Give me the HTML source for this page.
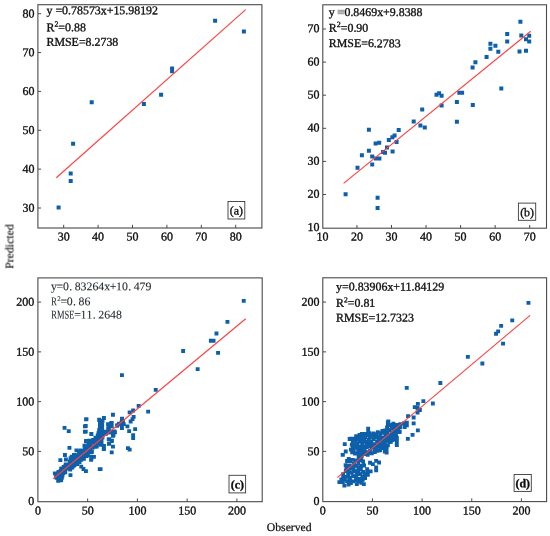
<!DOCTYPE html>
<html><head><meta charset="utf-8"><title>Observed vs Predicted</title>
<style>
html,body{margin:0;padding:0;background:#fff;}
svg{display:block;font-family:"Liberation Serif",serif;}
text{fill:#0a0a0a;stroke:#0a0a0a;stroke-width:0.3px;text-rendering:geometricPrecision;}
text.cj{font-family:"Liberation Serif","Noto Serif CJK SC",serif;fill:#1f252b;stroke:#1f252b;stroke-width:0.1px;}
</style></head><body>
<svg width="550" height="536" viewBox="0 0 550 536">
<defs><filter id="soft" x="0" y="0" width="550" height="536" filterUnits="userSpaceOnUse"><feGaussianBlur stdDeviation="0.35"/></filter></defs>
<rect width="550" height="536" fill="#fff"/>
<g filter="url(#soft)">
<g id="panel-a">
<path fill="#0e5fa9" d="M56.6 205.5h4.0v4.0h-4.0zM68.7 178.9h4.0v4.0h-4.0zM68.7 171.5h4.0v4.0h-4.0zM71.1 141.7h4.0v4.0h-4.0zM89.7 100.3h4.0v4.0h-4.0zM141.9 101.9h4.0v4.0h-4.0zM159.1 92.7h4.0v4.0h-4.0zM170.1 69.2h4.0v4.0h-4.0zM170.1 66.5h4.0v4.0h-4.0zM213.1 18.8h4.0v4.0h-4.0zM241.9 29.6h4.0v4.0h-4.0z"/>
<line x1="56.3" y1="177.8" x2="245.7" y2="9.6" stroke="#ff4040" stroke-width="1.15"/>
<rect x="37.9" y="4.7" width="224.00" height="223.30" fill="none" stroke="#4a4a4a" stroke-width="1.1"/>
<line x1="63.70" y1="228.0" x2="63.70" y2="224.80" stroke="#4a4a4a"/>
<text x="63.70" y="240.4" font-size="12.0" text-anchor="middle" transform="rotate(0.04 63.70 240.4)">30</text>
<line x1="98.10" y1="228.0" x2="98.10" y2="224.80" stroke="#4a4a4a"/>
<text x="98.10" y="240.4" font-size="12.0" text-anchor="middle" transform="rotate(0.04 98.10 240.4)">40</text>
<line x1="132.50" y1="228.0" x2="132.50" y2="224.80" stroke="#4a4a4a"/>
<text x="132.50" y="240.4" font-size="12.0" text-anchor="middle" transform="rotate(0.04 132.50 240.4)">50</text>
<line x1="166.90" y1="228.0" x2="166.90" y2="224.80" stroke="#4a4a4a"/>
<text x="166.90" y="240.4" font-size="12.0" text-anchor="middle" transform="rotate(0.04 166.90 240.4)">60</text>
<line x1="201.30" y1="228.0" x2="201.30" y2="224.80" stroke="#4a4a4a"/>
<text x="201.30" y="240.4" font-size="12.0" text-anchor="middle" transform="rotate(0.04 201.30 240.4)">70</text>
<line x1="235.70" y1="228.0" x2="235.70" y2="224.80" stroke="#4a4a4a"/>
<text x="235.70" y="240.4" font-size="12.0" text-anchor="middle" transform="rotate(0.04 235.70 240.4)">80</text>
<line x1="37.9" y1="208.00" x2="41.10" y2="208.00" stroke="#4a4a4a"/>
<text x="34.4" y="211.70" font-size="12.0" text-anchor="end" transform="rotate(0.04 34.4 211.70)">30</text>
<line x1="37.9" y1="169.14" x2="41.10" y2="169.14" stroke="#4a4a4a"/>
<text x="34.4" y="172.84" font-size="12.0" text-anchor="end" transform="rotate(0.04 34.4 172.84)">40</text>
<line x1="37.9" y1="130.28" x2="41.10" y2="130.28" stroke="#4a4a4a"/>
<text x="34.4" y="133.98" font-size="12.0" text-anchor="end" transform="rotate(0.04 34.4 133.98)">50</text>
<line x1="37.9" y1="91.42" x2="41.10" y2="91.42" stroke="#4a4a4a"/>
<text x="34.4" y="95.12" font-size="12.0" text-anchor="end" transform="rotate(0.04 34.4 95.12)">60</text>
<line x1="37.9" y1="52.56" x2="41.10" y2="52.56" stroke="#4a4a4a"/>
<text x="34.4" y="56.26" font-size="12.0" text-anchor="end" transform="rotate(0.04 34.4 56.26)">70</text>
<line x1="37.9" y1="13.70" x2="41.10" y2="13.70" stroke="#4a4a4a"/>
<text x="34.4" y="17.40" font-size="12.0" text-anchor="end" transform="rotate(0.04 34.4 17.40)">80</text>
<text x="46.5" y="14.2" font-size="11.9" transform="rotate(0.04 46.5 14.2)" >y =0.78573x+15.98192</text>
<text x="46.5" y="31.2" font-size="11.9" transform="rotate(0.04 46.5 31.2)" >R<tspan dy="-4.8" font-size="7.8">2</tspan><tspan dy="4.8">=0.88</tspan></text>
<text x="46.5" y="45.8" font-size="11.9" transform="rotate(0.04 46.5 45.8)" >RMSE=8.2738</text>
<rect x="228" y="201.5" width="16.80" height="17.50" fill="#fff" stroke="#3a3a3a" stroke-width="0.9"/>
<text x="236.4" y="214.6" font-size="11.9" transform="rotate(0.04 236.4 214.6)" text-anchor="middle">(a)</text>
</g>
<g id="panel-b">
<path fill="#0e5fa9" d="M343.6 192.2h4.0v4.0h-4.0zM375.6 195.8h4.0v4.0h-4.0zM375.6 206.1h4.0v4.0h-4.0zM355.5 165.8h4.0v4.0h-4.0zM359.9 153.2h4.0v4.0h-4.0zM366.9 127.7h4.0v4.0h-4.0zM366.9 148.7h4.0v4.0h-4.0zM370.2 154.6h4.0v4.0h-4.0zM370.2 162.4h4.0v4.0h-4.0zM373.6 141.6h4.0v4.0h-4.0zM377.2 140.7h4.0v4.0h-4.0zM374.0 156.6h4.0v4.0h-4.0zM377.4 156.4h4.0v4.0h-4.0zM381.0 149.9h4.0v4.0h-4.0zM383.0 150.8h4.0v4.0h-4.0zM385.0 145.6h4.0v4.0h-4.0zM386.8 138.0h4.0v4.0h-4.0zM390.6 149.6h4.0v4.0h-4.0zM390.4 135.3h4.0v4.0h-4.0zM392.6 133.5h4.0v4.0h-4.0zM394.6 140.0h4.0v4.0h-4.0zM396.7 128.1h4.0v4.0h-4.0zM411.7 119.5h4.0v4.0h-4.0zM418.4 123.4h4.0v4.0h-4.0zM422.8 125.5h4.0v4.0h-4.0zM420.2 107.5h4.0v4.0h-4.0zM518.4 19.7h4.0v4.0h-4.0zM519.3 33.6h4.0v4.0h-4.0zM527.2 33.8h4.0v4.0h-4.0zM524.0 37.2h4.0v4.0h-4.0zM527.2 39.6h4.0v4.0h-4.0zM517.5 49.5h4.0v4.0h-4.0zM524.0 48.8h4.0v4.0h-4.0zM505.2 32.0h4.0v4.0h-4.0zM505.2 39.6h4.0v4.0h-4.0zM488.4 41.7h4.0v4.0h-4.0zM488.4 46.8h4.0v4.0h-4.0zM493.4 43.7h4.0v4.0h-4.0zM496.3 49.7h4.0v4.0h-4.0zM484.6 55.1h4.0v4.0h-4.0zM473.4 60.2h4.0v4.0h-4.0zM470.6 65.5h4.0v4.0h-4.0zM499.3 86.4h4.0v4.0h-4.0zM434.5 92.7h4.0v4.0h-4.0zM437.1 91.2h4.0v4.0h-4.0zM439.6 93.8h4.0v4.0h-4.0zM439.6 103.5h4.0v4.0h-4.0zM457.3 90.8h4.0v4.0h-4.0zM460.1 90.8h4.0v4.0h-4.0zM454.9 99.9h4.0v4.0h-4.0zM470.8 102.9h4.0v4.0h-4.0zM454.9 119.8h4.0v4.0h-4.0z"/>
<line x1="343.6" y1="183.4" x2="530.7" y2="31.3" stroke="#ff4040" stroke-width="1.15"/>
<rect x="322.8" y="4.8" width="223.70" height="223.40" fill="none" stroke="#4a4a4a" stroke-width="1.1"/>
<text x="322.40" y="240.4" font-size="12.0" text-anchor="middle" transform="rotate(0.04 322.40 240.4)">10</text>
<line x1="356.95" y1="228.2" x2="356.95" y2="225.00" stroke="#4a4a4a"/>
<text x="356.95" y="240.4" font-size="12.0" text-anchor="middle" transform="rotate(0.04 356.95 240.4)">20</text>
<line x1="391.50" y1="228.2" x2="391.50" y2="225.00" stroke="#4a4a4a"/>
<text x="391.50" y="240.4" font-size="12.0" text-anchor="middle" transform="rotate(0.04 391.50 240.4)">30</text>
<line x1="426.05" y1="228.2" x2="426.05" y2="225.00" stroke="#4a4a4a"/>
<text x="426.05" y="240.4" font-size="12.0" text-anchor="middle" transform="rotate(0.04 426.05 240.4)">40</text>
<line x1="460.60" y1="228.2" x2="460.60" y2="225.00" stroke="#4a4a4a"/>
<text x="460.60" y="240.4" font-size="12.0" text-anchor="middle" transform="rotate(0.04 460.60 240.4)">50</text>
<line x1="495.15" y1="228.2" x2="495.15" y2="225.00" stroke="#4a4a4a"/>
<text x="495.15" y="240.4" font-size="12.0" text-anchor="middle" transform="rotate(0.04 495.15 240.4)">60</text>
<line x1="529.70" y1="228.2" x2="529.70" y2="225.00" stroke="#4a4a4a"/>
<text x="529.70" y="240.4" font-size="12.0" text-anchor="middle" transform="rotate(0.04 529.70 240.4)">70</text>
<text x="319.4" y="230.90" font-size="12.0" text-anchor="end" transform="rotate(0.04 319.4 230.90)">10</text>
<line x1="322.8" y1="194.50" x2="326.00" y2="194.50" stroke="#4a4a4a"/>
<text x="319.4" y="197.80" font-size="12.0" text-anchor="end" transform="rotate(0.04 319.4 197.80)">20</text>
<line x1="322.8" y1="161.40" x2="326.00" y2="161.40" stroke="#4a4a4a"/>
<text x="319.4" y="164.70" font-size="12.0" text-anchor="end" transform="rotate(0.04 319.4 164.70)">30</text>
<line x1="322.8" y1="128.30" x2="326.00" y2="128.30" stroke="#4a4a4a"/>
<text x="319.4" y="131.60" font-size="12.0" text-anchor="end" transform="rotate(0.04 319.4 131.60)">40</text>
<line x1="322.8" y1="95.20" x2="326.00" y2="95.20" stroke="#4a4a4a"/>
<text x="319.4" y="98.50" font-size="12.0" text-anchor="end" transform="rotate(0.04 319.4 98.50)">50</text>
<line x1="322.8" y1="62.10" x2="326.00" y2="62.10" stroke="#4a4a4a"/>
<text x="319.4" y="65.40" font-size="12.0" text-anchor="end" transform="rotate(0.04 319.4 65.40)">60</text>
<line x1="322.8" y1="29.00" x2="326.00" y2="29.00" stroke="#4a4a4a"/>
<text x="319.4" y="32.30" font-size="12.0" text-anchor="end" transform="rotate(0.04 319.4 32.30)">70</text>
<text x="328.8" y="15.9" font-size="11.9" transform="rotate(0.04 328.8 15.9)" >y <tspan style="fill:#a6a6a6;stroke:#a6a6a6;stroke-width:1.5px">=</tspan>0.8469x+9.8388</text>
<text x="328.8" y="31.8" font-size="11.9" transform="rotate(0.04 328.8 31.8)" >R<tspan dy="-4.7" font-size="8.0">2</tspan><tspan dy="4.7">=0.90</tspan></text>
<text x="328.8" y="47.1" font-size="11.9" transform="rotate(0.04 328.8 47.1)" >RMSE=6.2783</text>
<rect x="518.4" y="203.1" width="17.30" height="17.20" fill="#fff" stroke="#3a3a3a" stroke-width="0.9"/>
<text x="527.1" y="216.2" font-size="11.9" transform="rotate(0.04 527.1 216.2)" text-anchor="middle">(b)</text>
</g>
<g id="panel-c">
<path fill="#0e5fa9" d="M241.8 298.9h3.9v3.9h-3.9zM225.5 319.9h3.9v3.9h-3.9zM214.5 331.6h3.9v3.9h-3.9zM208.9 338.8h3.9v3.9h-3.9zM211.6 338.8h3.9v3.9h-3.9zM216.1 350.9h3.9v3.9h-3.9zM181.2 349.1h3.9v3.9h-3.9zM195.7 367.2h3.9v3.9h-3.9zM153.8 387.9h3.9v3.9h-3.9zM120.0 373.2h3.9v3.9h-3.9zM136.7 403.9h3.9v3.9h-3.9zM146.2 409.7h3.9v3.9h-3.9zM131.2 408.6h3.9v3.9h-3.9zM127.7 410.4h3.9v3.9h-3.9zM111.0 412.9h3.9v3.9h-3.9zM131.7 414.9h3.9v3.9h-3.9zM130.6 417.2h3.9v3.9h-3.9zM128.7 419.6h3.9v3.9h-3.9zM120.1 416.8h3.9v3.9h-3.9zM121.0 419.9h3.9v3.9h-3.9zM120.0 422.8h3.9v3.9h-3.9zM120.0 426.1h3.9v3.9h-3.9zM125.5 424.4h3.9v3.9h-3.9zM127.2 429.2h3.9v3.9h-3.9zM133.2 427.2h3.9v3.9h-3.9zM131.2 433.2h3.9v3.9h-3.9zM131.2 436.1h3.9v3.9h-3.9zM126.0 446.2h3.9v3.9h-3.9zM127.7 447.7h3.9v3.9h-3.9zM102.0 416.1h3.9v3.9h-3.9zM97.5 418.2h3.9v3.9h-3.9zM99.0 421.1h3.9v3.9h-3.9zM99.5 424.4h3.9v3.9h-3.9zM97.8 427.8h3.9v3.9h-3.9zM100.6 418.9h3.9v3.9h-3.9zM106.5 422.4h3.9v3.9h-3.9zM109.8 421.1h3.9v3.9h-3.9zM106.5 426.7h3.9v3.9h-3.9zM109.8 424.4h3.9v3.9h-3.9zM112.6 429.4h3.9v3.9h-3.9zM111.0 433.9h3.9v3.9h-3.9zM107.0 430.6h3.9v3.9h-3.9zM107.0 437.4h3.9v3.9h-3.9zM109.8 439.1h3.9v3.9h-3.9zM107.0 441.9h3.9v3.9h-3.9zM111.0 444.7h3.9v3.9h-3.9zM102.0 443.9h3.9v3.9h-3.9zM102.0 447.2h3.9v3.9h-3.9zM109.8 450.4h3.9v3.9h-3.9zM96.5 431.2h3.9v3.9h-3.9zM94.1 435.7h3.9v3.9h-3.9zM94.8 443.4h3.9v3.9h-3.9zM115.5 423.2h3.9v3.9h-3.9zM117.1 421.7h3.9v3.9h-3.9zM98.6 467.2h3.9v3.9h-3.9zM111.5 433.1h3.9v3.9h-3.9zM112.6 429.8h3.9v3.9h-3.9zM89.8 454.9h3.9v3.9h-3.9zM92.0 454.9h3.9v3.9h-3.9zM89.1 457.8h3.9v3.9h-3.9zM89.1 450.4h3.9v3.9h-3.9zM62.6 425.9h3.9v3.9h-3.9zM66.8 429.2h3.9v3.9h-3.9zM84.5 417.2h3.9v3.9h-3.9zM83.0 424.4h3.9v3.9h-3.9zM83.0 429.8h3.9v3.9h-3.9zM89.5 432.2h3.9v3.9h-3.9zM84.5 438.9h3.9v3.9h-3.9zM67.5 445.9h3.9v3.9h-3.9zM74.5 448.4h3.9v3.9h-3.9zM106.2 422.2h3.9v3.9h-3.9zM106.2 426.7h3.9v3.9h-3.9zM94.0 435.7h3.9v3.9h-3.9zM90.6 438.9h3.9v3.9h-3.9zM92.8 442.4h3.9v3.9h-3.9zM106.8 437.2h3.9v3.9h-3.9zM82.8 445.7h3.9v3.9h-3.9zM87.2 449.1h3.9v3.9h-3.9zM77.1 451.2h3.9v3.9h-3.9zM63.0 453.1h3.9v3.9h-3.9zM58.4 458.2h3.9v3.9h-3.9zM64.0 457.6h3.9v3.9h-3.9zM52.9 471.4h3.9v3.9h-3.9zM68.5 473.2h3.9v3.9h-3.9zM84.0 469.2h3.9v3.9h-3.9zM81.5 467.1h3.9v3.9h-3.9zM79.3 464.7h3.9v3.9h-3.9zM56.6 476.2h3.9v3.9h-3.9zM59.9 475.9h3.9v3.9h-3.9zM56.2 478.9h3.9v3.9h-3.9zM59.2 478.4h3.9v3.9h-3.9zM58.0 477.4h3.9v3.9h-3.9zM58.4 469.6h3.9v3.9h-3.9zM97.8 467.2h3.9v3.9h-3.9zM84.0 439.2h3.9v3.9h-3.9zM89.5 456.7h3.9v3.9h-3.9zM91.8 454.9h3.9v3.9h-3.9zM97.2 417.8h3.9v3.9h-3.9zM99.8 419.2h3.9v3.9h-3.9zM102.0 415.9h3.9v3.9h-3.9zM98.0 421.4h3.9v3.9h-3.9zM100.2 422.9h3.9v3.9h-3.9zM98.0 425.2h3.9v3.9h-3.9zM100.2 426.8h3.9v3.9h-3.9zM97.2 428.2h3.9v3.9h-3.9zM99.8 429.7h3.9v3.9h-3.9zM102.5 429.7h3.9v3.9h-3.9zM97.2 431.2h3.9v3.9h-3.9zM100.2 432.7h3.9v3.9h-3.9zM95.8 433.4h3.9v3.9h-3.9zM98.0 434.9h3.9v3.9h-3.9zM93.5 435.7h3.9v3.9h-3.9zM95.8 437.2h3.9v3.9h-3.9zM100.5 435.7h3.9v3.9h-3.9zM91.2 437.9h3.9v3.9h-3.9zM93.5 439.4h3.9v3.9h-3.9zM89.8 440.2h3.9v3.9h-3.9zM106.1 422.2h3.9v3.9h-3.9zM109.1 421.2h3.9v3.9h-3.9zM106.5 424.9h3.9v3.9h-3.9zM109.1 424.1h3.9v3.9h-3.9zM107.0 427.4h3.9v3.9h-3.9zM105.5 429.7h3.9v3.9h-3.9zM104.0 431.9h3.9v3.9h-3.9zM110.6 429.7h3.9v3.9h-3.9zM113.0 430.4h3.9v3.9h-3.9zM111.0 433.4h3.9v3.9h-3.9zM120.0 417.1h3.9v3.9h-3.9zM119.6 420.4h3.9v3.9h-3.9zM121.8 422.2h3.9v3.9h-3.9zM120.0 425.2h3.9v3.9h-3.9zM117.3 422.2h3.9v3.9h-3.9zM115.1 423.8h3.9v3.9h-3.9zM107.3 437.2h3.9v3.9h-3.9zM110.0 438.7h3.9v3.9h-3.9zM107.3 441.7h3.9v3.9h-3.9zM111.0 444.7h3.9v3.9h-3.9zM101.8 443.9h3.9v3.9h-3.9zM101.8 446.9h3.9v3.9h-3.9zM89.3 431.9h3.9v3.9h-3.9zM111.0 412.7h3.9v3.9h-3.9zM84.1 417.4h3.9v3.9h-3.9zM83.8 424.1h3.9v3.9h-3.9zM83.8 429.7h3.9v3.9h-3.9zM94.2 443.2h3.9v3.9h-3.9zM86.8 445.4h3.9v3.9h-3.9zM84.5 439.4h3.9v3.9h-3.9zM87.5 438.7h3.9v3.9h-3.9zM66.6 466.1h3.9v3.9h-3.9zM56.2 474.7h3.9v3.9h-3.9zM76.5 455.1h3.9v3.9h-3.9zM75.1 457.7h3.9v3.9h-3.9zM55.1 472.9h3.9v3.9h-3.9zM56.9 472.2h3.9v3.9h-3.9zM71.2 460.9h3.9v3.9h-3.9zM62.2 466.7h3.9v3.9h-3.9zM81.0 455.9h3.9v3.9h-3.9zM70.0 460.1h3.9v3.9h-3.9zM98.8 442.9h3.9v3.9h-3.9zM65.1 466.7h3.9v3.9h-3.9zM59.0 471.6h3.9v3.9h-3.9zM90.5 445.9h3.9v3.9h-3.9zM60.4 466.4h3.9v3.9h-3.9zM68.8 460.2h3.9v3.9h-3.9zM77.0 456.2h3.9v3.9h-3.9zM61.5 468.6h3.9v3.9h-3.9zM83.5 447.6h3.9v3.9h-3.9zM79.0 454.9h3.9v3.9h-3.9zM72.5 457.4h3.9v3.9h-3.9zM84.5 454.2h3.9v3.9h-3.9zM63.1 464.4h3.9v3.9h-3.9zM93.5 439.9h3.9v3.9h-3.9zM86.0 445.9h3.9v3.9h-3.9zM57.9 475.7h3.9v3.9h-3.9zM71.0 460.4h3.9v3.9h-3.9zM74.2 455.9h3.9v3.9h-3.9zM55.1 472.1h3.9v3.9h-3.9zM78.2 449.8h3.9v3.9h-3.9zM93.5 439.8h3.9v3.9h-3.9zM79.3 457.8h3.9v3.9h-3.9zM78.6 448.4h3.9v3.9h-3.9zM97.1 440.2h3.9v3.9h-3.9zM73.5 457.7h3.9v3.9h-3.9zM84.6 448.1h3.9v3.9h-3.9zM82.0 456.9h3.9v3.9h-3.9zM64.8 465.2h3.9v3.9h-3.9zM69.5 461.4h3.9v3.9h-3.9zM73.0 458.2h3.9v3.9h-3.9zM59.9 470.1h3.9v3.9h-3.9zM88.0 446.9h3.9v3.9h-3.9zM58.4 470.9h3.9v3.9h-3.9zM93.3 444.9h3.9v3.9h-3.9zM56.5 470.2h3.9v3.9h-3.9zM94.0 442.4h3.9v3.9h-3.9zM90.6 445.7h3.9v3.9h-3.9zM70.8 458.9h3.9v3.9h-3.9zM68.2 467.6h3.9v3.9h-3.9zM59.2 466.8h3.9v3.9h-3.9zM60.2 469.4h3.9v3.9h-3.9zM74.0 459.9h3.9v3.9h-3.9zM79.0 453.6h3.9v3.9h-3.9zM71.0 460.7h3.9v3.9h-3.9zM68.6 456.2h3.9v3.9h-3.9zM84.0 446.4h3.9v3.9h-3.9zM75.5 453.2h3.9v3.9h-3.9zM55.6 471.4h3.9v3.9h-3.9zM94.8 441.8h3.9v3.9h-3.9zM89.5 438.9h3.9v3.9h-3.9zM69.8 460.4h3.9v3.9h-3.9zM81.3 452.7h3.9v3.9h-3.9zM55.9 473.9h3.9v3.9h-3.9zM59.8 470.2h3.9v3.9h-3.9zM67.3 463.4h3.9v3.9h-3.9zM59.2 470.1h3.9v3.9h-3.9zM57.3 471.4h3.9v3.9h-3.9zM93.5 442.2h3.9v3.9h-3.9zM80.3 453.9h3.9v3.9h-3.9zM67.6 464.7h3.9v3.9h-3.9zM68.5 466.2h3.9v3.9h-3.9zM99.6 440.7h3.9v3.9h-3.9zM73.1 457.2h3.9v3.9h-3.9zM57.3 471.8h3.9v3.9h-3.9zM67.5 462.9h3.9v3.9h-3.9zM59.6 473.6h3.9v3.9h-3.9zM54.6 475.9h3.9v3.9h-3.9zM59.1 469.4h3.9v3.9h-3.9zM76.8 459.2h3.9v3.9h-3.9zM99.0 437.8h3.9v3.9h-3.9zM92.8 441.4h3.9v3.9h-3.9zM68.5 460.4h3.9v3.9h-3.9zM59.9 469.9h3.9v3.9h-3.9zM88.5 442.1h3.9v3.9h-3.9zM66.8 464.6h3.9v3.9h-3.9zM99.2 442.4h3.9v3.9h-3.9zM92.3 444.6h3.9v3.9h-3.9zM86.5 442.2h3.9v3.9h-3.9zM62.3 465.4h3.9v3.9h-3.9zM54.8 473.6h3.9v3.9h-3.9zM54.8 473.6h3.9v3.9h-3.9zM84.1 451.7h3.9v3.9h-3.9zM97.8 431.4h3.9v3.9h-3.9zM99.5 439.1h3.9v3.9h-3.9zM97.6 436.8h3.9v3.9h-3.9zM62.5 468.7h3.9v3.9h-3.9zM61.1 469.4h3.9v3.9h-3.9zM94.8 444.7h3.9v3.9h-3.9zM91.8 438.8h3.9v3.9h-3.9zM89.6 445.4h3.9v3.9h-3.9zM56.8 470.1h3.9v3.9h-3.9zM88.8 439.9h3.9v3.9h-3.9zM87.1 445.1h3.9v3.9h-3.9zM89.0 445.6h3.9v3.9h-3.9zM67.0 465.8h3.9v3.9h-3.9zM69.8 454.8h3.9v3.9h-3.9zM70.1 465.2h3.9v3.9h-3.9zM60.0 468.4h3.9v3.9h-3.9zM58.3 473.4h3.9v3.9h-3.9zM90.0 449.9h3.9v3.9h-3.9zM59.0 472.9h3.9v3.9h-3.9zM82.5 443.7h3.9v3.9h-3.9zM67.8 461.7h3.9v3.9h-3.9zM54.3 473.9h3.9v3.9h-3.9zM98.5 435.2h3.9v3.9h-3.9zM96.5 436.2h3.9v3.9h-3.9zM71.6 463.4h3.9v3.9h-3.9zM61.8 465.1h3.9v3.9h-3.9zM63.5 466.2h3.9v3.9h-3.9zM79.0 455.9h3.9v3.9h-3.9zM63.8 465.2h3.9v3.9h-3.9zM95.3 440.9h3.9v3.9h-3.9zM68.0 459.6h3.9v3.9h-3.9zM95.0 441.4h3.9v3.9h-3.9zM71.0 463.2h3.9v3.9h-3.9zM76.3 454.2h3.9v3.9h-3.9zM76.0 459.4h3.9v3.9h-3.9zM60.5 469.2h3.9v3.9h-3.9zM54.1 474.7h3.9v3.9h-3.9zM73.5 456.4h3.9v3.9h-3.9zM85.8 445.4h3.9v3.9h-3.9zM75.6 455.6h3.9v3.9h-3.9zM77.5 455.2h3.9v3.9h-3.9zM77.6 453.4h3.9v3.9h-3.9zM63.3 466.1h3.9v3.9h-3.9zM75.1 462.1h3.9v3.9h-3.9zM77.8 455.2h3.9v3.9h-3.9zM72.0 453.1h3.9v3.9h-3.9zM80.2 449.1h3.9v3.9h-3.9zM84.2 449.2h3.9v3.9h-3.9zM72.5 455.9h3.9v3.9h-3.9zM97.0 438.1h3.9v3.9h-3.9zM84.5 454.2h3.9v3.9h-3.9zM63.8 462.4h3.9v3.9h-3.9zM77.6 460.2h3.9v3.9h-3.9zM58.8 469.2h3.9v3.9h-3.9zM58.1 470.4h3.9v3.9h-3.9zM63.0 467.4h3.9v3.9h-3.9zM56.3 471.1h3.9v3.9h-3.9zM94.6 436.1h3.9v3.9h-3.9zM70.8 464.4h3.9v3.9h-3.9zM84.0 453.1h3.9v3.9h-3.9zM72.2 463.2h3.9v3.9h-3.9zM63.2 470.4h3.9v3.9h-3.9zM75.6 460.9h3.9v3.9h-3.9zM60.6 471.9h3.9v3.9h-3.9zM60.5 473.6h3.9v3.9h-3.9zM77.5 457.1h3.9v3.9h-3.9zM85.5 453.4h3.9v3.9h-3.9zM76.3 459.9h3.9v3.9h-3.9zM62.5 469.4h3.9v3.9h-3.9zM72.8 460.9h3.9v3.9h-3.9zM63.3 469.4h3.9v3.9h-3.9zM58.8 473.9h3.9v3.9h-3.9zM70.3 465.6h3.9v3.9h-3.9zM72.5 463.1h3.9v3.9h-3.9zM72.0 463.6h3.9v3.9h-3.9zM70.8 463.4h3.9v3.9h-3.9zM86.0 453.1h3.9v3.9h-3.9zM81.5 455.9h3.9v3.9h-3.9zM66.8 466.4h3.9v3.9h-3.9zM66.1 466.6h3.9v3.9h-3.9zM79.5 456.6h3.9v3.9h-3.9zM81.8 454.7h3.9v3.9h-3.9zM84.8 453.6h3.9v3.9h-3.9zM58.0 473.8h3.9v3.9h-3.9zM83.5 453.4h3.9v3.9h-3.9zM85.5 451.6h3.9v3.9h-3.9zM60.0 473.4h3.9v3.9h-3.9zM79.8 455.9h3.9v3.9h-3.9zM60.4 472.2h3.9v3.9h-3.9zM85.0 453.1h3.9v3.9h-3.9zM61.3 471.2h3.9v3.9h-3.9zM60.8 470.9h3.9v3.9h-3.9z"/>
<line x1="53.2" y1="478.7" x2="245.7" y2="318.7" stroke="#ff4040" stroke-width="1.15"/>
<rect x="37.9" y="277.9" width="224.30" height="223.80" fill="none" stroke="#4a4a4a" stroke-width="1.1"/>
<text x="37.90" y="514.6" font-size="12.0" text-anchor="middle" transform="rotate(0.04 37.90 514.6)">0</text>
<line x1="87.65" y1="501.7" x2="87.65" y2="498.50" stroke="#4a4a4a"/>
<text x="87.65" y="514.6" font-size="12.0" text-anchor="middle" transform="rotate(0.04 87.65 514.6)">50</text>
<line x1="137.40" y1="501.7" x2="137.40" y2="498.50" stroke="#4a4a4a"/>
<text x="137.40" y="514.6" font-size="12.0" text-anchor="middle" transform="rotate(0.04 137.40 514.6)">100</text>
<line x1="187.15" y1="501.7" x2="187.15" y2="498.50" stroke="#4a4a4a"/>
<text x="187.15" y="514.6" font-size="12.0" text-anchor="middle" transform="rotate(0.04 187.15 514.6)">150</text>
<line x1="236.90" y1="501.7" x2="236.90" y2="498.50" stroke="#4a4a4a"/>
<text x="236.90" y="514.6" font-size="12.0" text-anchor="middle" transform="rotate(0.04 236.90 514.6)">200</text>
<text x="34.2" y="505.00" font-size="12.0" text-anchor="end" transform="rotate(0.04 34.2 505.00)">0</text>
<line x1="37.9" y1="451.42" x2="41.10" y2="451.42" stroke="#4a4a4a"/>
<text x="34.2" y="455.22" font-size="12.0" text-anchor="end" transform="rotate(0.04 34.2 455.22)">50</text>
<line x1="37.9" y1="401.64" x2="41.10" y2="401.64" stroke="#4a4a4a"/>
<text x="34.2" y="405.44" font-size="12.0" text-anchor="end" transform="rotate(0.04 34.2 405.44)">100</text>
<line x1="37.9" y1="351.86" x2="41.10" y2="351.86" stroke="#4a4a4a"/>
<text x="34.2" y="355.66" font-size="12.0" text-anchor="end" transform="rotate(0.04 34.2 355.66)">150</text>
<line x1="37.9" y1="302.08" x2="41.10" y2="302.08" stroke="#4a4a4a"/>
<text x="34.2" y="305.88" font-size="12.0" text-anchor="end" transform="rotate(0.04 34.2 305.88)">200</text>
<text class="cj" x="54.05 59.95 65.85 70.65 77.65 83.55 89.45 95.35 101.25 107.15 113.05 118.95 124.85 129.65 136.65 142.55 148.45" y="290.3" font-size="11.8" text-anchor="middle" transform="rotate(0.04 51.1 290.3)">y=0.83264x+10.479</text>
<text class="cj" x="51.3" y="305.2" font-size="11.8" textLength="5.6" lengthAdjust="spacingAndGlyphs" transform="rotate(0.04 51.3 305.2)">R</text>
<text class="cj" x="58.9" y="300.9" font-size="7" text-anchor="middle" transform="rotate(0.04 58 300)">2</text>
<text class="cj" x="63.85 69.75 74.55 81.55 87.45" y="305.2" font-size="11.8" text-anchor="middle" transform="rotate(0.04 60.9 305.2)">=0.86</text>
<text class="cj" x="51.3" y="318.6" font-size="11.8" textLength="23.0" lengthAdjust="spacingAndGlyphs" transform="rotate(0.04 51.3 318.6)">RMSE</text>
<text class="cj" x="77.65 83.55 89.45 94.25 101.25 107.15 113.05 118.95" y="318.6" font-size="11.8" text-anchor="middle" transform="rotate(0.04 74.7 318.6)">=11.2648</text>
<rect x="229" y="475.3" width="16.60" height="17.60" fill="#fff" stroke="#3a3a3a" stroke-width="0.9"/>
<text x="237.3" y="488.4" font-size="11.9" transform="rotate(0.04 237.3 488.4)" text-anchor="middle" font-weight="bold" stroke="none">(c)</text>
</g>
<g id="panel-d">
<path fill="#0e5fa9" d="M526.5 300.9h3.9v3.9h-3.9zM510.3 318.4h3.9v3.9h-3.9zM499.2 323.9h3.9v3.9h-3.9zM496.2 329.4h3.9v3.9h-3.9zM494.1 331.8h3.9v3.9h-3.9zM501.1 341.7h3.9v3.9h-3.9zM465.9 354.9h3.9v3.9h-3.9zM480.4 361.6h3.9v3.9h-3.9zM438.4 381.1h3.9v3.9h-3.9zM404.8 385.9h3.9v3.9h-3.9zM421.4 399.2h3.9v3.9h-3.9zM430.9 401.6h3.9v3.9h-3.9zM415.9 401.9h3.9v3.9h-3.9zM412.8 405.2h3.9v3.9h-3.9zM415.6 406.1h3.9v3.9h-3.9zM417.9 408.1h3.9v3.9h-3.9zM415.6 410.6h3.9v3.9h-3.9zM406.1 414.2h3.9v3.9h-3.9zM411.7 415.6h3.9v3.9h-3.9zM411.7 421.4h3.9v3.9h-3.9zM404.9 420.7h3.9v3.9h-3.9zM404.9 423.4h3.9v3.9h-3.9zM402.2 421.2h3.9v3.9h-3.9zM402.7 425.1h3.9v3.9h-3.9zM415.9 428.4h3.9v3.9h-3.9zM410.6 432.9h3.9v3.9h-3.9zM405.9 436.9h3.9v3.9h-3.9zM386.4 419.4h3.9v3.9h-3.9zM385.9 422.9h3.9v3.9h-3.9zM391.4 421.8h3.9v3.9h-3.9zM394.9 422.9h3.9v3.9h-3.9zM398.2 425.1h3.9v3.9h-3.9zM394.9 435.8h3.9v3.9h-3.9zM397.1 430.2h3.9v3.9h-3.9zM394.9 439.2h3.9v3.9h-3.9zM394.9 443.2h3.9v3.9h-3.9zM384.4 448.4h3.9v3.9h-3.9zM384.7 450.6h3.9v3.9h-3.9zM374.2 458.9h3.9v3.9h-3.9zM377.1 460.6h3.9v3.9h-3.9zM368.1 460.8h3.9v3.9h-3.9zM370.9 462.2h3.9v3.9h-3.9zM374.2 465.6h3.9v3.9h-3.9zM374.2 468.4h3.9v3.9h-3.9zM365.2 467.2h3.9v3.9h-3.9zM368.7 469.4h3.9v3.9h-3.9zM365.9 472.9h3.9v3.9h-3.9zM363.1 476.1h3.9v3.9h-3.9zM397.8 429.8h3.9v3.9h-3.9zM389.9 434.8h3.9v3.9h-3.9zM388.9 439.9h3.9v3.9h-3.9zM342.8 442.2h3.9v3.9h-3.9zM347.7 437.1h3.9v3.9h-3.9zM352.4 438.2h3.9v3.9h-3.9zM343.8 449.4h3.9v3.9h-3.9zM340.7 452.9h3.9v3.9h-3.9zM366.2 426.7h3.9v3.9h-3.9zM366.2 430.4h3.9v3.9h-3.9zM385.2 426.2h3.9v3.9h-3.9zM337.4 480.2h3.9v3.9h-3.9zM342.4 483.7h3.9v3.9h-3.9zM346.6 482.7h3.9v3.9h-3.9zM354.9 482.2h3.9v3.9h-3.9zM361.9 482.2h3.9v3.9h-3.9zM340.9 452.9h3.9v3.9h-3.9zM343.8 449.6h3.9v3.9h-3.9zM359.8 438.4h3.9v3.9h-3.9zM366.8 440.7h3.9v3.9h-3.9zM391.6 435.8h3.9v3.9h-3.9zM374.9 446.1h3.9v3.9h-3.9zM387.4 440.2h3.9v3.9h-3.9zM368.1 448.4h3.9v3.9h-3.9zM380.4 428.9h3.9v3.9h-3.9zM374.1 432.2h3.9v3.9h-3.9zM385.1 425.4h3.9v3.9h-3.9zM351.8 448.4h3.9v3.9h-3.9zM362.7 447.1h3.9v3.9h-3.9zM385.2 430.1h3.9v3.9h-3.9zM357.6 433.1h3.9v3.9h-3.9zM371.6 437.4h3.9v3.9h-3.9zM381.4 440.4h3.9v3.9h-3.9zM376.9 441.4h3.9v3.9h-3.9zM369.9 445.2h3.9v3.9h-3.9zM369.2 439.8h3.9v3.9h-3.9zM380.4 435.4h3.9v3.9h-3.9zM384.7 445.9h3.9v3.9h-3.9zM360.4 434.9h3.9v3.9h-3.9zM363.1 431.9h3.9v3.9h-3.9zM389.9 426.6h3.9v3.9h-3.9zM392.6 423.9h3.9v3.9h-3.9zM364.9 442.4h3.9v3.9h-3.9zM394.2 434.8h3.9v3.9h-3.9zM389.9 430.7h3.9v3.9h-3.9zM365.4 433.4h3.9v3.9h-3.9zM369.4 433.2h3.9v3.9h-3.9zM396.1 423.4h3.9v3.9h-3.9zM396.4 425.9h3.9v3.9h-3.9zM382.4 437.4h3.9v3.9h-3.9zM394.9 439.7h3.9v3.9h-3.9zM360.4 450.7h3.9v3.9h-3.9zM372.4 447.7h3.9v3.9h-3.9zM375.4 448.9h3.9v3.9h-3.9zM356.2 447.9h3.9v3.9h-3.9zM351.7 436.8h3.9v3.9h-3.9zM378.2 431.2h3.9v3.9h-3.9zM353.7 438.9h3.9v3.9h-3.9zM369.8 451.4h3.9v3.9h-3.9zM382.9 449.7h3.9v3.9h-3.9zM387.9 437.1h3.9v3.9h-3.9zM360.4 441.2h3.9v3.9h-3.9zM387.2 432.6h3.9v3.9h-3.9zM386.9 423.4h3.9v3.9h-3.9zM372.8 442.2h3.9v3.9h-3.9zM357.7 439.9h3.9v3.9h-3.9zM359.6 445.1h3.9v3.9h-3.9zM392.4 426.7h3.9v3.9h-3.9zM357.1 444.6h3.9v3.9h-3.9zM385.9 420.6h3.9v3.9h-3.9zM353.1 451.7h3.9v3.9h-3.9zM356.6 451.8h3.9v3.9h-3.9zM364.7 445.2h3.9v3.9h-3.9zM378.9 438.8h3.9v3.9h-3.9zM350.7 445.1h3.9v3.9h-3.9zM365.9 450.2h3.9v3.9h-3.9zM375.2 439.4h3.9v3.9h-3.9zM379.1 445.4h3.9v3.9h-3.9zM374.9 435.2h3.9v3.9h-3.9zM349.1 436.7h3.9v3.9h-3.9zM355.7 436.6h3.9v3.9h-3.9zM369.6 442.4h3.9v3.9h-3.9zM363.2 435.2h3.9v3.9h-3.9zM366.8 437.8h3.9v3.9h-3.9zM349.9 442.7h3.9v3.9h-3.9zM355.2 442.2h3.9v3.9h-3.9zM352.6 443.2h3.9v3.9h-3.9zM382.9 442.4h3.9v3.9h-3.9zM365.8 452.8h3.9v3.9h-3.9zM350.2 450.4h3.9v3.9h-3.9zM393.9 431.9h3.9v3.9h-3.9zM380.4 442.9h3.9v3.9h-3.9zM362.9 452.2h3.9v3.9h-3.9zM383.7 433.9h3.9v3.9h-3.9zM362.1 444.4h3.9v3.9h-3.9zM384.9 438.9h3.9v3.9h-3.9zM367.9 435.4h3.9v3.9h-3.9zM381.7 446.2h3.9v3.9h-3.9zM367.1 431.2h3.9v3.9h-3.9zM354.4 445.6h3.9v3.9h-3.9zM387.4 428.1h3.9v3.9h-3.9zM359.1 448.1h3.9v3.9h-3.9zM364.1 439.8h3.9v3.9h-3.9zM390.2 422.9h3.9v3.9h-3.9zM350.9 440.2h3.9v3.9h-3.9zM359.9 431.9h3.9v3.9h-3.9zM381.9 430.9h3.9v3.9h-3.9zM394.8 442.4h3.9v3.9h-3.9zM389.2 434.9h3.9v3.9h-3.9zM359.9 453.6h3.9v3.9h-3.9zM354.2 434.2h3.9v3.9h-3.9zM398.4 422.2h3.9v3.9h-3.9zM378.2 448.4h3.9v3.9h-3.9zM372.1 434.9h3.9v3.9h-3.9zM377.9 434.9h3.9v3.9h-3.9zM395.4 429.4h3.9v3.9h-3.9zM376.4 444.1h3.9v3.9h-3.9zM367.1 444.1h3.9v3.9h-3.9zM371.2 431.6h3.9v3.9h-3.9zM356.7 454.4h3.9v3.9h-3.9zM385.9 443.4h3.9v3.9h-3.9zM372.8 450.2h3.9v3.9h-3.9zM362.9 449.7h3.9v3.9h-3.9zM392.6 429.2h3.9v3.9h-3.9zM393.4 437.6h3.9v3.9h-3.9zM348.9 447.7h3.9v3.9h-3.9zM391.1 433.2h3.9v3.9h-3.9zM390.2 438.2h3.9v3.9h-3.9zM372.4 444.7h3.9v3.9h-3.9zM362.4 437.7h3.9v3.9h-3.9zM383.2 428.6h3.9v3.9h-3.9zM375.8 430.2h3.9v3.9h-3.9zM376.7 437.4h3.9v3.9h-3.9zM358.2 436.4h3.9v3.9h-3.9zM385.4 436.2h3.9v3.9h-3.9zM357.4 477.1h3.9v3.9h-3.9zM352.1 461.9h3.9v3.9h-3.9zM354.7 471.9h3.9v3.9h-3.9zM357.2 458.2h3.9v3.9h-3.9zM354.4 475.2h3.9v3.9h-3.9zM348.4 459.4h3.9v3.9h-3.9zM346.2 472.9h3.9v3.9h-3.9zM347.6 463.8h3.9v3.9h-3.9zM346.8 469.1h3.9v3.9h-3.9zM342.7 477.6h3.9v3.9h-3.9zM353.9 478.2h3.9v3.9h-3.9zM354.7 463.9h3.9v3.9h-3.9zM356.4 479.7h3.9v3.9h-3.9zM351.6 467.2h3.9v3.9h-3.9zM340.9 480.2h3.9v3.9h-3.9zM348.4 478.4h3.9v3.9h-3.9zM358.2 472.2h3.9v3.9h-3.9zM344.4 474.9h3.9v3.9h-3.9zM361.1 459.6h3.9v3.9h-3.9zM362.8 472.2h3.9v3.9h-3.9zM358.9 467.2h3.9v3.9h-3.9zM351.1 474.2h3.9v3.9h-3.9zM343.7 463.2h3.9v3.9h-3.9zM345.1 459.1h3.9v3.9h-3.9zM362.1 463.6h3.9v3.9h-3.9zM341.2 472.2h3.9v3.9h-3.9zM356.6 469.4h3.9v3.9h-3.9zM353.7 458.4h3.9v3.9h-3.9zM360.4 474.4h3.9v3.9h-3.9zM356.4 461.6h3.9v3.9h-3.9zM365.2 470.2h3.9v3.9h-3.9zM343.9 469.1h3.9v3.9h-3.9zM349.8 470.7h3.9v3.9h-3.9zM351.2 479.4h3.9v3.9h-3.9zM345.1 479.2h3.9v3.9h-3.9zM359.4 480.9h3.9v3.9h-3.9zM339.4 477.6h3.9v3.9h-3.9zM361.1 469.9h3.9v3.9h-3.9zM347.9 475.7h3.9v3.9h-3.9zM360.8 477.9h3.9v3.9h-3.9zM359.4 456.4h3.9v3.9h-3.9zM359.2 464.1h3.9v3.9h-3.9zM344.4 465.9h3.9v3.9h-3.9zM350.7 457.9h3.9v3.9h-3.9zM351.1 464.4h3.9v3.9h-3.9zM356.4 466.1h3.9v3.9h-3.9zM348.9 466.4h3.9v3.9h-3.9zM346.8 456.9h3.9v3.9h-3.9zM353.6 469.2h3.9v3.9h-3.9zM341.2 475.2h3.9v3.9h-3.9zM348.9 481.2h3.9v3.9h-3.9z"/>
<line x1="337.3" y1="477.6" x2="530.1" y2="315.4" stroke="#ff4040" stroke-width="1.15"/>
<rect x="322.8" y="277.8" width="223.80" height="223.80" fill="none" stroke="#4a4a4a" stroke-width="1.1"/>
<text x="322.80" y="514.6" font-size="12.0" text-anchor="middle" transform="rotate(0.04 322.80 514.6)">0</text>
<line x1="372.45" y1="501.6" x2="372.45" y2="498.40" stroke="#4a4a4a"/>
<text x="372.45" y="514.6" font-size="12.0" text-anchor="middle" transform="rotate(0.04 372.45 514.6)">50</text>
<line x1="422.10" y1="501.6" x2="422.10" y2="498.40" stroke="#4a4a4a"/>
<text x="422.10" y="514.6" font-size="12.0" text-anchor="middle" transform="rotate(0.04 422.10 514.6)">100</text>
<line x1="471.75" y1="501.6" x2="471.75" y2="498.40" stroke="#4a4a4a"/>
<text x="471.75" y="514.6" font-size="12.0" text-anchor="middle" transform="rotate(0.04 471.75 514.6)">150</text>
<line x1="521.40" y1="501.6" x2="521.40" y2="498.40" stroke="#4a4a4a"/>
<text x="521.40" y="514.6" font-size="12.0" text-anchor="middle" transform="rotate(0.04 521.40 514.6)">200</text>
<text x="319.4" y="505.00" font-size="12.0" text-anchor="end" transform="rotate(0.04 319.4 505.00)">0</text>
<line x1="322.8" y1="451.42" x2="326.00" y2="451.42" stroke="#4a4a4a"/>
<text x="319.4" y="455.22" font-size="12.0" text-anchor="end" transform="rotate(0.04 319.4 455.22)">50</text>
<line x1="322.8" y1="401.64" x2="326.00" y2="401.64" stroke="#4a4a4a"/>
<text x="319.4" y="405.44" font-size="12.0" text-anchor="end" transform="rotate(0.04 319.4 405.44)">100</text>
<line x1="322.8" y1="351.86" x2="326.00" y2="351.86" stroke="#4a4a4a"/>
<text x="319.4" y="355.66" font-size="12.0" text-anchor="end" transform="rotate(0.04 319.4 355.66)">150</text>
<line x1="322.8" y1="302.08" x2="326.00" y2="302.08" stroke="#4a4a4a"/>
<text x="319.4" y="305.88" font-size="12.0" text-anchor="end" transform="rotate(0.04 319.4 305.88)">200</text>
<text x="336.1" y="290.4" font-size="11.9" transform="rotate(0.04 336.1 290.4)" >y=0.83906x+11.84129</text>
<text x="336.1" y="306.8" font-size="11.9" transform="rotate(0.04 336.1 306.8)" >R<tspan dy="-4.6" font-size="7.5">2</tspan><tspan dy="4.6">=0.81</tspan></text>
<text x="336.1" y="321.5" font-size="11.9" transform="rotate(0.04 336.1 321.5)" >RMSE=12.7323</text>
<rect x="514.1" y="474.5" width="17.20" height="16.90" fill="#fff" stroke="#3a3a3a" stroke-width="0.9"/>
<text x="522.8" y="487.3" font-size="11.9" transform="rotate(0.04 522.8 487.3)" text-anchor="middle" font-weight="bold" stroke="none">(d)</text>
</g>
<text transform="translate(13.4 246.6) rotate(-90)" font-size="11.85" style="stroke-width:0.08px" text-anchor="middle">Predicted</text>
<text x="289.2" y="530.5" font-size="11.7" text-anchor="middle" style="stroke-width:0.2px" transform="rotate(0.04 289.2 530.5)">Observed</text>
</g></svg></body></html>
